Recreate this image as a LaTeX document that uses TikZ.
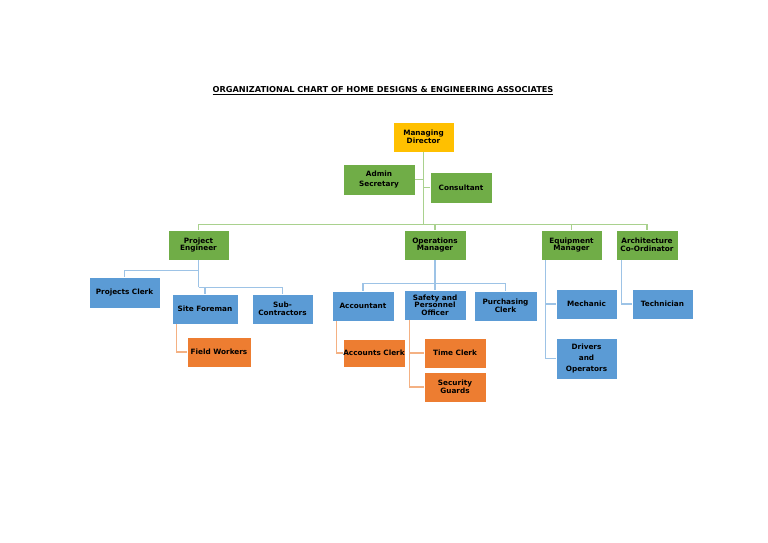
\documentclass[tikz,border=0pt]{standalone}
\usepackage{fontspec}
\setmainfont{DejaVu Sans}
\usepackage{xcolor}
\definecolor{boxgreen}{HTML}{70AD47}
\definecolor{boxblue}{HTML}{5B9BD5}
\definecolor{boxorange}{HTML}{ED7D31}
\definecolor{boxgold}{HTML}{FFC000}
\definecolor{linegreen}{HTML}{A9D18E}
\definecolor{lineblue}{HTML}{9DC3E6}
\definecolor{lineorange}{HTML}{F4B183}

\begin{document}
\begin{tikzpicture}[x=1pt,y=-1pt,
                box/.style={draw=white,line width=0.6pt,minimum width=62pt,minimum height=30pt,
                    inner sep=0pt,align=center,font=\fontsize{7.3}{7.7}\selectfont\bfseries},
                gbox/.style={box,fill=boxgreen},
                bbox/.style={box,fill=boxblue},
                obox/.style={box,fill=boxorange},
                gline/.style={draw=linegreen,line width=1.2pt},
                bline/.style={draw=lineblue,line width=1.2pt},
                oline/.style={draw=lineorange,line width=1.2pt}]
                \useasboundingbox (0,0) rectangle (768,543);
                % title
                \node[font=\fontsize{8.2}{9}\selectfont\bfseries] (title) at (383,91) {\underline{ORGANIZATIONAL CHART OF HOME DESIGNS \& ENGINEERING ASSOCIATES}};
                % top
                \node[box,fill=boxgold,minimum width=61pt] (md) at (423.5,137) {Managing\\Director};
                \node[gbox,minimum width=72pt,minimum height=31pt] (as) at (379,179.5) {Admin\\[2pt]Secretary};
                \node[gbox,minimum height=31pt] (con) at (461,187.5) {Consultant};
                % managers
                \node[gbox,minimum width=61pt] (pe) at (198.5,245) {Project\\Engineer};
                \node[gbox] (om) at (435,245) {Operations\\Manager};
                \node[gbox,minimum width=61pt] (em) at (571.5,245) {Equipment\\Manager};
                \node[gbox] (ac) at (647,245) {Architecture\\Co-Ordinator};
                % project engineer side
                \node[bbox,minimum width=71pt,minimum height=31pt] (pc) at (124.5,292.5) {Projects Clerk};
                \node[bbox,minimum width=66pt] (sf) at (205,309) {Site Foreman};
                \node[bbox,minimum width=61pt] (sc) at (282.5,309) {Sub-\\Contractors};
                \node[obox,minimum width=64pt] (fw) at (219,352) {Field Workers};
                % operations side
                \node[bbox] (acc) at (363,306) {Accountant};
                \node[bbox] (so) at (435,305) {Safety and\\Personnel\\Officer};
                \node[bbox,minimum width=63pt] (pcl) at (505.5,306) {Purchasing\\Clerk};
                \node[obox,minimum height=28pt] (acl) at (374,353) {Accounts Clerk};
                \node[obox] (tc) at (455,353) {Time Clerk};
                \node[obox] (sg) at (455,387) {Security\\Guards};
                % equipment and architecture side
                \node[bbox,minimum width=61pt] (mech) at (586.5,304) {Mechanic};
                \node[bbox,minimum width=61pt,minimum height=41pt] (dr) at (586.5,358.5) {Drivers\\[3pt]and\\[3pt]Operators};
                \node[bbox,minimum width=61pt] (tech) at (662.5,304) {Technician};
                % green lines
                \draw[gline] (md.south) -- ++(0,72) coordinate (mdb);
                \draw[gline] (as.east) -- (as.east -| md.south);
                \draw[gline] (con.west) -- (con.west -| md.south);
                \draw[gline] (pe.north) |- (mdb) -| (ac.north);
                \draw[gline] (om.north) -- (om.north |- mdb);
                \draw[gline] (em.north) -- (em.north |- mdb);
                % blue lines
                \draw[bline] (pe.south) -- ++(0,10) -| (pc.north);
                \draw[bline] (pe.south) -- ++(0,27) coordinate (peb);
                \draw[bline] (peb) -| (sf.north);
                \draw[bline] (peb) -| (sc.north);
                \draw[bline] (om.south) -- ++(0,23) coordinate (omb);
                \draw[bline] (omb) -| (acc.north);
                \draw[bline] (omb) -| (pcl.north);
                \draw[bline] (omb) -- (so.north);
                \draw[bline] ([xshift=5pt]em.south west) |- (mech.west);
                \draw[bline] ([xshift=5pt]em.south west) |- (dr.west);
                \draw[bline] ([xshift=6pt]ac.south west) |- (tech.west);
                % orange lines
                \draw[oline] ([xshift=5pt]sf.south west) |- (fw.west);
                \draw[oline] ([xshift=5pt]acc.south west) |- (acl.west);
                \draw[oline] ([xshift=6pt]so.south west) |- (tc.west);
                \draw[oline] ([xshift=6pt]so.south west) |- (sg.west);
            \end{tikzpicture}
\end{document}
